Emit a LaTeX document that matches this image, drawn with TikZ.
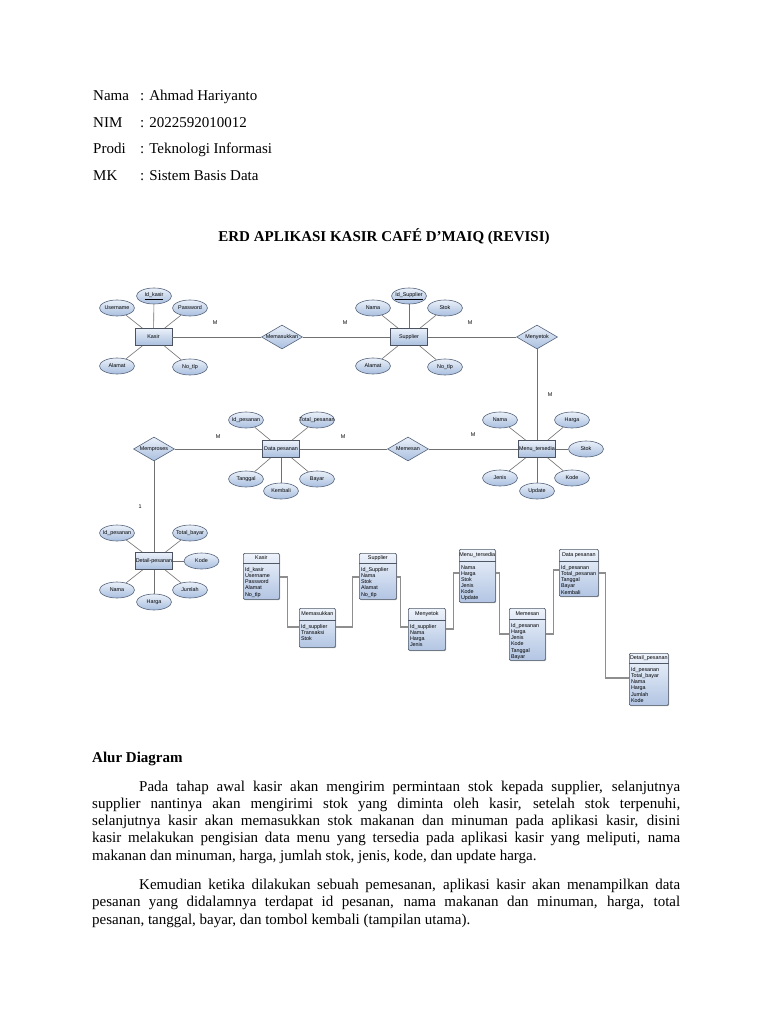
\documentclass[tikz,border=0pt]{standalone}
\usepackage{fontspec}
\setmainfont{Liberation Serif}
\newfontfamily\diagfont{Liberation Sans}
\usetikzlibrary{shapes.geometric,calc,shadows}
\definecolor{shTop}{HTML}{EAF0F9}
\definecolor{shBot}{HTML}{A9BFDF}
\definecolor{shLine}{HTML}{56657D}
\definecolor{entLine}{HTML}{4C5360}
\definecolor{erdGray}{HTML}{707070}
\definecolor{tblTop}{HTML}{EEF3FB}
\definecolor{tblBot}{HTML}{B2C5E3}
\definecolor{tblLine}{HTML}{4E5866}
\definecolor{linkGray}{HTML}{8E8E8E}
\newcommand\attrnode[3]{\node[attr] (#1) at (#2) {};\node[lbl] (#1-t) at (#1.center) {#3};}
\newcommand\relnode[3]{\node[rel] (#1) at (#2) {};\node[lbl] (#1-t) at (#1.center) {#3};}
\newcommand\dbtable[7]{%
  \node[tblbox, minimum width=#3pt, minimum height=#4pt] (#1) at (#2) {};
  \draw[tblsep] ([yshift=-#5pt]#1.north west) -- ([yshift=-#5pt]#1.north east);
  \node[lbl] (#1-h) at ([yshift=-#5pt/2]#1.north) {#6};
  \node[rows] (#1-r) at ([xshift=1.8pt,yshift=-#5pt-4.5pt]#1.north west) {#7};
}
\begin{document}
\begin{tikzpicture}[x=1pt,y=-1pt,
  body/.style={inner sep=0pt, font=\fontsize{15}{17.3}\selectfont},
  bodyb/.style={inner sep=0pt, font=\fontsize{15}{17.3}\selectfont\bfseries},
  lbl/.style={inner sep=0pt, font=\diagfont\fontsize{5.4}{6}\selectfont},
  attr/.style={ellipse, draw=shLine, line width=0.6pt, top color=shTop, bottom color=shBot,
    minimum width=35pt, minimum height=16pt, inner sep=0pt},
  ent/.style={rectangle, draw=entLine, line width=0.8pt, top color=shTop, bottom color=shBot,
    minimum width=37pt, minimum height=17pt, inner sep=0pt, font=\diagfont\fontsize{5.4}{6}\selectfont},
  rel/.style={diamond, draw=shLine, line width=0.6pt, top color=shTop, bottom color=shBot,
    minimum width=41pt, minimum height=24pt, inner sep=0pt},
  erd/.style={draw=erdGray, line width=0.6pt},
  tblbox/.style={anchor=north west, rectangle, rounded corners=1.2pt, draw=tblLine, line width=0.7pt,
    top color=tblTop, bottom color=tblBot, inner sep=0pt,
    drop shadow={shadow xshift=0.8pt, shadow yshift=-0.8pt, opacity=0.3, fill=black}},
  tblsep/.style={draw=tblLine, line width=0.5pt},
  rows/.style={anchor=north west, inner sep=0pt, align=left, font=\diagfont\fontsize{5.4}{6.1}\selectfont},
  tlink/.style={draw=linkGray, line width=1.3pt}
]
\useasboundingbox (0,0) rectangle (768,1024);
\fill[white] (0,0) rectangle (768,1024);

% ---------- header ----------
\node[body, anchor=base west] (h1a) at (93,101) {Nama};
\node[body, anchor=base west] (h1b) at (140,101) {: Ahmad Hariyanto};
\node[body, anchor=base west] (h2a) at (93,127.5) {NIM};
\node[body, anchor=base west] (h2b) at (140,127.5) {: 2022592010012};
\node[body, anchor=base west] (h3a) at (93,154) {Prodi};
\node[body, anchor=base west] (h3b) at (140,154) {: Teknologi Informasi};
\node[body, anchor=base west] (h4a) at (93,181) {MK};
\node[body, anchor=base west] (h4b) at (140,181) {: Sistem Basis Data};

\node[bodyb, anchor=base] (title) at (384,241) {ERD APLIKASI KASIR CAFÉ D’MAIQ (REVISI)};

% ---------- ERD ----------
\node[ent] (kasir) at (153.5,337) {Kasir};
\attrnode{kid}{154,296}{\underline{Id\_kasir}}
\attrnode{kuser}{117,308}{Username}
\attrnode{kpass}{190,308}{Password}
\attrnode{kalamat}{117,366}{Alamat}
\attrnode{knotlp}{190,367}{No\_tlp}

\relnode{memasukkan}{282,337}{Memasukkan}

\node[ent] (supplier) at (409,337) {Supplier};
\attrnode{sid}{409,296}{\underline{Id\_Supplier}}
\attrnode{snama}{373,308}{Nama}
\attrnode{sstok}{445,308}{Stok}
\attrnode{salamat}{373,366}{Alamat}
\attrnode{snotlp}{445,367}{No\_tlp}

\relnode{menyetok}{537,337}{Menyetok}

\node[ent] (menu) at (537,449) {Menu\_tersedia};
\attrnode{mnama}{500,420}{Nama}
\attrnode{mharga}{572,420}{Harga}
\attrnode{mstok}{586,449}{Stok}
\attrnode{mjenis}{500,478}{Jenis}
\attrnode{mkode}{572,478}{Kode}
\attrnode{mupdate}{537,491}{Update}

\relnode{memesan}{408,449}{Memesan}

\node[ent] (datap) at (281,449) {Data pesanan};
\attrnode{did}{246,420}{Id\_pesanan}
\attrnode{dtotal}{317,420}{Total\_pesanan}
\attrnode{dtanggal}{246,479}{Tanggal}
\attrnode{dkembali}{281,491}{Kembali}
\attrnode{dbayar}{317,479}{Bayar}

\relnode{memproses}{154,449}{Memproses}

\node[ent] (detail) at (154,561) {Detail-pesanan};
\attrnode{tid}{117,533}{Id\_pesanan}
\attrnode{ttotal}{190,533}{Total\_bayar}
\attrnode{tkode}{201.5,561}{Kode}
\attrnode{tnama}{117,590}{Nama}
\attrnode{tjumlah}{190,590}{Jumlah}
\attrnode{tharga}{154,602}{Harga}

\draw[erd] (kasir) -- (memasukkan) -- (supplier) -- (menyetok) -- (menu)
  -- (memesan) -- (datap) -- (memproses) -- (detail);
\foreach \a/\b in {kasir/kid, kasir/kuser, kasir/kpass, kasir/kalamat, kasir/knotlp,
  supplier/sid, supplier/snama, supplier/sstok, supplier/salamat, supplier/snotlp,
  menu/mnama, menu/mharga, menu/mstok, menu/mjenis, menu/mkode, menu/mupdate,
  datap/did, datap/dtotal, datap/dtanggal, datap/dkembali, datap/dbayar,
  detail/tid, detail/ttotal, detail/tkode, detail/tnama, detail/tjumlah, detail/tharga}
  \draw[erd] (\a) -- (\b);

\node[lbl] (m1) at (215,323) {M};
\node[lbl] (m2) at (345,323) {M};
\node[lbl] (m3) at (470,323) {M};
\node[lbl] (m4) at (550,395) {M};
\node[lbl] (m5) at (218,437) {M};
\node[lbl] (m6) at (343,437) {M};
\node[lbl] (m7) at (473,435) {M};
\node[lbl] (one) at (140,507) {1};

% ---------- tables ----------
\dbtable{tkasir}{243,553}{36}{46}{10}{Kasir}{Id\_kasir\\Username\\Password\\Alamat\\No\_tlp}
\dbtable{tmem}{299,608}{36}{39}{12}{Memasukkan}{Id\_supplier\\Transaksi\\Stok}
\dbtable{tsup}{359,553}{37}{46}{10}{Supplier}{Id\_Supplier\\Nama\\Stok\\Alamat\\No\_tlp}
\dbtable{tmeny}{408,608}{37}{42}{12}{Menyetok}{Id\_supplier\\Nama\\Harga\\Jenis}
\dbtable{tmenu}{459,549}{36}{53}{12}{Menu\_tersedia}{Nama\\Harga\\Stok\\Jenis\\Kode\\Update}
\dbtable{tmemesan}{509,608}{36}{52}{11}{Memesan}{Id\_pesanan\\Harga\\Jenis\\Kode\\Tanggal\\Bayar}
\dbtable{tdatap}{559,549}{39}{47}{12}{Data pesanan}{Id\_pesanan\\Total\_pesanan\\Tanggal\\Bayar\\Kembali}
\dbtable{tdetail}{629,653}{39}{52}{10}{Detail\_pesanan}{Id\_pesanan\\Total\_bayar\\Nama\\Harga\\Jumlah\\Kode}

\draw[tlink] ([yshift=-24pt]tkasir.north east) -- ++(8,0) |- ([yshift=-19pt]tmem.north west);
\draw[tlink] ([yshift=-19pt]tmem.north east) -- ++(17,0) |- ([yshift=-24pt]tsup.north west);
\draw[tlink] ([yshift=-24pt]tsup.north east) -- ++(3.5,0) |- ([yshift=-19pt]tmeny.north west);
\draw[tlink] ([yshift=-21pt]tmeny.north east) -- ++(8,0) |- ([yshift=-24pt]tmenu.north west);
\draw[tlink] ([yshift=-24pt]tmenu.north east) -- ++(3.5,0) |- ([yshift=-26pt]tmemesan.north west);
\draw[tlink] ([yshift=-26pt]tmemesan.north east) -- ++(8,0) |- ([yshift=-21pt]tdatap.north west);
\draw[tlink] ([yshift=-24pt]tdatap.north east) -- ++(7,0) |- ([yshift=-25pt]tdetail.north west);

% ---------- text ----------
\node[bodyb, anchor=base west] (alur) at (92,762) {Alur Diagram};
\node[body, anchor=base west] (p1a) at (139,791) {\makebox[541pt][s]{Pada tahap awal kasir akan mengirim permintaan stok kepada supplier, selanjutnya}};
\node[body, anchor=base west] (p1b) at (92,808.3) {\makebox[588pt][s]{supplier nantinya akan mengirimi stok yang diminta oleh kasir, setelah stok terpenuhi,}};
\node[body, anchor=base west] (p1c) at (92,825.6) {\makebox[588pt][s]{selanjutnya kasir akan memasukkan stok makanan dan minuman pada aplikasi kasir, disini}};
\node[body, anchor=base west] (p1d) at (92,842.9) {\makebox[588pt][s]{kasir melakukan pengisian data menu yang tersedia pada aplikasi kasir yang meliputi, nama}};
\node[body, anchor=base west] (p1e) at (92,860.2) {makanan dan minuman, harga, jumlah stok, jenis, kode, dan update harga.};
\node[body, anchor=base west] (p2a) at (139,889.5) {\makebox[541pt][s]{Kemudian ketika dilakukan sebuah pemesanan, aplikasi kasir akan menampilkan data}};
\node[body, anchor=base west] (p2b) at (92,906.8) {\makebox[588pt][s]{pesanan yang didalamnya terdapat id pesanan, nama makanan dan minuman, harga, total}};
\node[body, anchor=base west] (p2c) at (92,924.1) {pesanan, tanggal, bayar, dan tombol kembali (tampilan utama).};
\end{tikzpicture}
\end{document}
